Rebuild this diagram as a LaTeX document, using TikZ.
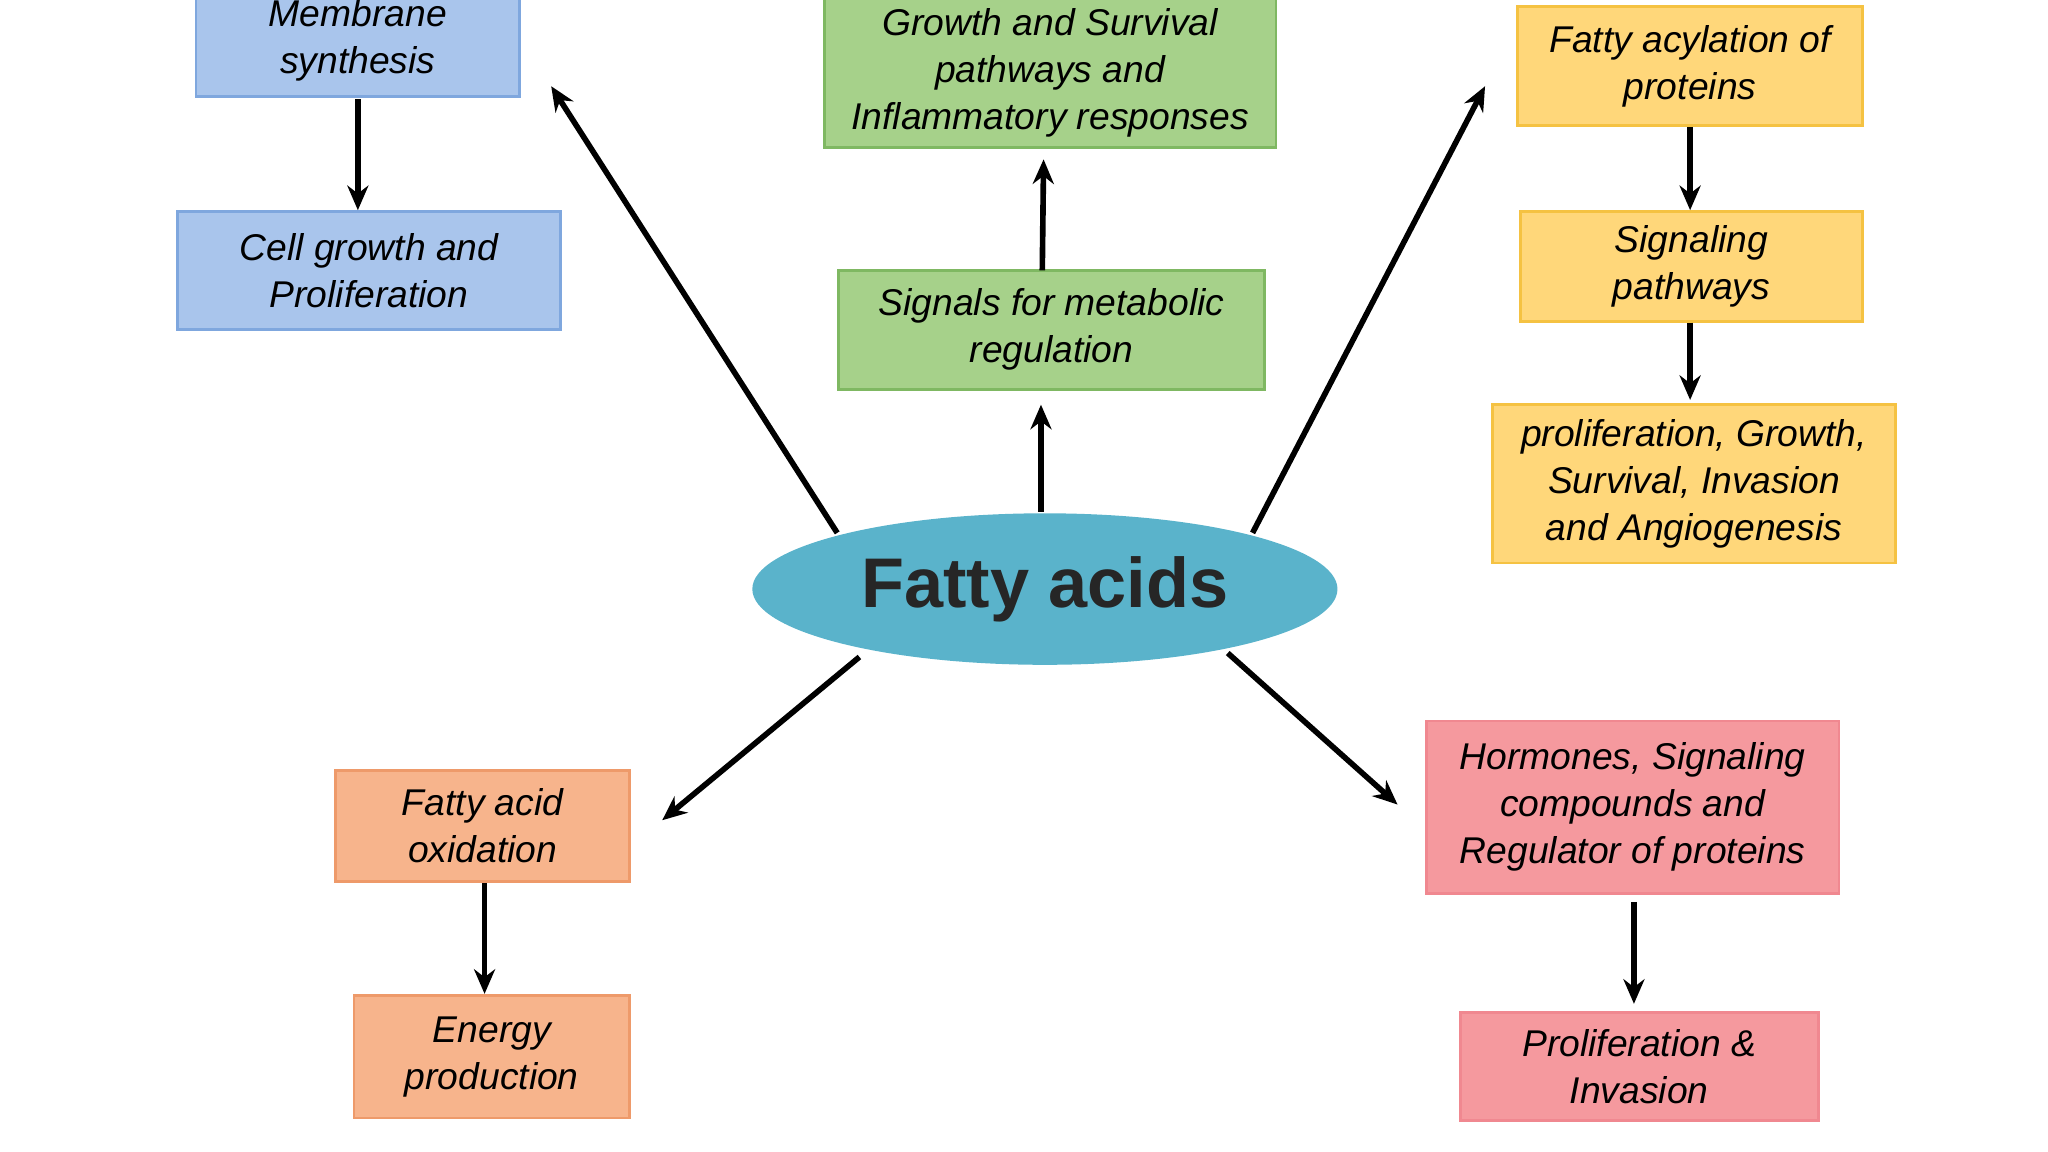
\documentclass[tikz,border=0pt]{standalone}
\usepackage{fontspec}
\setmainfont{Liberation Sans}
\usetikzlibrary{arrows.meta,shapes.geometric}
\definecolor{bluef}{HTML}{A9C5EC}\definecolor{blued}{HTML}{7FA7DE}
\definecolor{greenf}{HTML}{A6D18A}\definecolor{greend}{HTML}{7FB862}
\definecolor{yelf}{HTML}{FFD77A}\definecolor{yeld}{HTML}{F5C242}
\definecolor{oraf}{HTML}{F7B48C}\definecolor{orad}{HTML}{EE9A6A}
\definecolor{pinkf}{HTML}{F5999E}\definecolor{pinkd}{HTML}{F08890}
\definecolor{ellf}{HTML}{5AB3CB}
\begin{document}
\begin{tikzpicture}[x=0.01306cm,y=-0.01306cm,
  box/.style={draw=#1d,fill=#1f,line width=0.8pt,align=center,inner sep=0pt,
    font=\fontsize{10.6}{13.4}\selectfont\itshape},
  arr/.style={-{Stealth[length=7pt,width=6pt]},line width=1.6pt}]
\useasboundingbox (0,0) rectangle (1568,882);
\newcommand\bx[7]{\node[box=#1,minimum width={(#4-#2)*0.01306cm},minimum height={(#5-#3)*0.01306cm}] (#6) at ({(#2+#4)/2},{(#3+#5)/2}) {#7};}
\bx{blue}{150}{-12}{398}{74}{ms}{Membrane\\synthesis}
\bx{blue}{136}{162}{429}{252}{cg}{Cell growth and\\Proliferation}
\bx{green}{631}{-1}{977}{113}{gs}{Growth and Survival\\pathways and\\Inflammatory responses}
\bx{green}{642}{207}{968}{298}{sm}{Signals for metabolic\\regulation}
\bx{yel}{1162}{5}{1426}{96}{fa}{Fatty acylation of\\proteins}
\bx{yel}{1164}{162}{1426}{246}{sp}{Signaling\\pathways}
\bx{yel}{1143}{310}{1451}{431}{pg}{proliferation, Growth,\\Survival, Invasion\\and Angiogenesis}
\bx{ora}{257}{590}{482}{675}{fo}{Fatty acid\\oxidation}
\bx{ora}{271}{762}{482}{856}{ep}{Energy\\production}
\bx{pink}{1092}{552}{1408}{684}{hs}{Hormones, Signaling\\compounds and\\Regulator of proteins}
\bx{pink}{1118}{775}{1392}{858}{pi}{Proliferation \&\\Invasion}
\node[ellipse,fill=ellf,minimum width={448*0.01306cm},minimum height={116*0.01306cm},
  font=\fontsize{20}{24}\selectfont\bfseries,text=black!85] (fat) at (800,451) {Fatty acids};
\coordinate (e1) at (641,408); \coordinate (t1) at (422,66);
\coordinate (e2) at (797,392); \coordinate (e3) at (959,408); \coordinate (t3) at (1137,66);
\coordinate (e4) at (658,503); \coordinate (t4) at (507,628);
\coordinate (e5) at (940,500); \coordinate (t5) at (1070,616);
\draw[arr] (e1) -- (t1);
\draw[arr] (e2) -- ([yshift=-4pt]sm.south -| e2);
\draw[arr] (798,207) -- (799,122);
\draw[arr] (e3) -- (t3);
\draw[arr] (e4) -- (t4);
\draw[arr] (e5) -- (t5);
\draw[arr] (274,76) -- (cg.north -| 274,0);
\draw[arr] (fa.south) -- (sp.north -| fa.south);
\draw[arr] (sp.south -| fa.south) -- ([yshift=1pt]pg.north -| fa.south);
\draw[arr] (fo.south -| 371,0) -- (ep.north -| 371,0);
\draw[arr] ([yshift=-2pt]hs.south -| 1251,0) -- ([yshift=2pt]pi.north -| 1251,0);
\end{tikzpicture}
\end{document}
